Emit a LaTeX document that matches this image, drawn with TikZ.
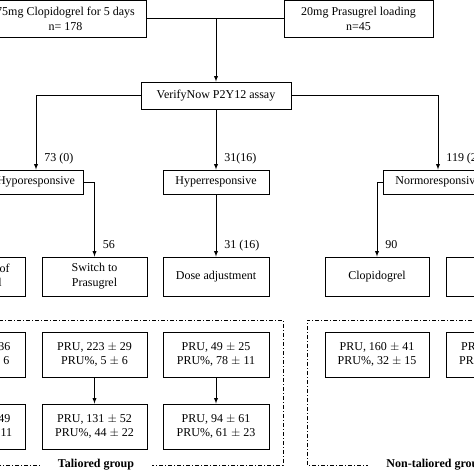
\documentclass[tikz,border=0pt]{standalone}
\usepackage{fontspec}
\setmainfont{Liberation Serif}
\usetikzlibrary{positioning}
\newcommand{\flowfont}{\fontsize{12}{14.8}\selectfont}
\tikzset{
        flowbox/.style={draw, line width=0.9pt, align=center, inner sep=0pt,
          minimum width=105pt, minimum height=39pt},
        prubox/.style={flowbox, minimum height=45pt},
        countlbl/.style={anchor=base west, inner sep=0pt, xshift=8pt, yshift=8pt},
        groupline/.style={line width=0.9pt, dash pattern=on 4pt off 2pt on 1pt off 2pt},
        grouplbl/.style={fill=white, inner xsep=18pt, inner ysep=2pt, font=\flowfont\bfseries},
}

\begin{document}
\begin{tikzpicture}[x=1pt, y=-1pt, >=latex, line width=0.9pt, font=\flowfont]
      % \draw[help lines, dashed] grid (474, 474);
      \useasboundingbox (0,0) rectangle (474,474);
      \clip (0,0) rectangle (474,474);

      % LOADING DOSES
      \node[flowbox, minimum width=161pt, minimum height=37pt] (clopi) at (65.5,18.5) {75mg Clopidogrel for 5 days\\n= 178};
      \node[flowbox, minimum width=149pt, minimum height=37pt] (prasu) at (358.5,18.5) {20mg Prasugrel loading\\n=45};

      % VERIFYNOW ASSAY
      \node[flowbox, minimum width=150pt, minimum height=27pt] (assay) at (216,95.5) {VerifyNow P2Y12 assay};

      % RESPONSE GROUPS
      \node[flowbox, minimum width=94pt, minimum height=24pt] (hypo) at (36,182) {Hyporesponsive};
      \node[flowbox, minimum width=106pt, minimum height=24pt] (hyper) at (216,182) {Hyperresponsive};
      \node[flowbox, minimum width=110pt, minimum height=24pt] (normo) at (438,182) {Normoresponsive};

      % TREATMENT
      \node[flowbox] (dbl) at (-27,276.5) {Double dose of\\Clopidogrel};
      \node[flowbox] (switch) at (94.5,276.5) {Switch to\\Prasugrel};
      \node[flowbox, minimum width=106pt] (dose) at (216,276.5) {Dose adjustment};
      \node[flowbox, minimum width=104pt] (clop) at (377,276.5) {Clopidogrel};
      \node[flowbox] (pras) at (498.5,276.5) {Prasugrel};

      % PRU BEFORE AND AFTER
      \node[prubox] (dblpre) at (-27,354.5) {PRU, 243 $\pm$ 36\\PRU\%, 10 $\pm$ 6};
      \node[prubox] (switchpre) at (94.5,354.5) {PRU, 223 $\pm$ 29\\PRU\%, 5 $\pm$ 6};
      \node[prubox, minimum width=106pt] (dosepre) at (216,354.5) {PRU, 49 $\pm$ 25\\PRU\%, 78 $\pm$ 11};
      \node[prubox, minimum width=104pt] (cloppre) at (377,354.5) {PRU, 160 $\pm$ 41\\PRU\%, 32 $\pm$ 15};
      \node[prubox] (craspre) at (498.5,354.5) {PRU, 152 $\pm$ 44\\PRU\%, 35 $\pm$ 14};
      \node[prubox] (dblpost) at (-27,426.5) {PRU, 188 $\pm$ 49\\PRU\%, 23 $\pm$ 11};
      \node[prubox] (switchpost) at (94.5,426.5) {PRU, 131 $\pm$ 52\\PRU\%, 44 $\pm$ 22};
      \node[prubox, minimum width=106pt] (dosepost) at (216,426.5) {PRU, 94 $\pm$ 61\\PRU\%, 61 $\pm$ 23};

      % WIRING
      % loading to assay
      \draw(clopi.east) -- (prasu.west);
      \draw(clopi.east -| assay.north)[->] -- (assay.north);
      % assay to response groups
      \draw(assay.west)[->] -| (hypo.north) node[countlbl]{73 (0)};
      \draw(assay.south)[->] -- (hyper.north) node[countlbl]{31(16)};
      \draw(assay.east)[->] -| (normo.north) node[countlbl]{119 (29)};
      % response groups to treatment
      \draw(hypo.east)[->] -| (switch.north) node[countlbl]{56};
      \draw(hyper.south)[->] -- (dose.north) node[countlbl]{31 (16)};
      \draw(normo.west)[->] -| (clop.north) node[countlbl]{90};
      % before to after
      \draw(switchpre.south)[->] -- (switchpost.north);
      \draw(dosepre.south)[->] -- (dosepost.north);

      % GROUP FRAMES
      \draw[groupline] (-10,320) -| (283,465) -- (-10,465);
      \node[grouplbl] (tailored) at (96,465) {Taliored group};
      \draw[groupline] (490,320) -| (307,465) -- (490,465);
      \node[grouplbl, anchor=west] (nontailored) at (368,465) {Non-taliored group};
\end{tikzpicture}
\end{document}
